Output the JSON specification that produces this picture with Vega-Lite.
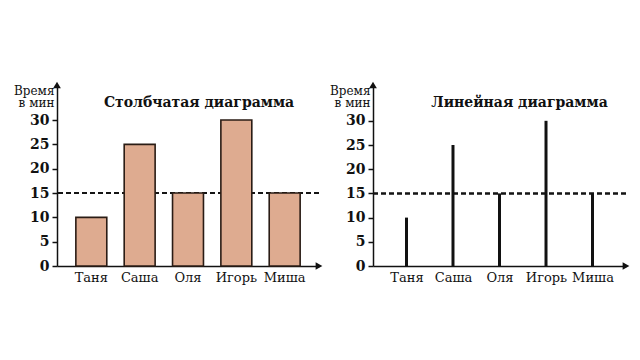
{
  "$schema": "https://vega.github.io/schema/vega-lite/v6.json",
  "background": "#ffffff",
  "padding": {"left": 13, "top": 81, "right": 5, "bottom": 5},
  "spacing": 6,
  "datasets": {
    "times": [
      {"name": "Таня", "minutes": 10},
      {"name": "Саша", "minutes": 25},
      {"name": "Оля", "minutes": 15},
      {"name": "Игорь", "minutes": 30},
      {"name": "Миша", "minutes": 15}
    ],
    "arrowUp": [{"ax": 0, "ay": 37.2}],
    "arrowRight": [{"ax": 1, "ay": 0}],
    "arrowUp2": [{"ax": 0, "ay": 37.4}]
  },
  "hconcat": [
    {
      "width": 262,
      "height": 181,
      "title": {"text": "Столбчатая диаграмма", "dx": 11, "dy": 32},
      "resolve": {"scale": {"x": "independent"}},
      "layer": [
        {
          "data": {"name": "times"},
          "mark": {"type": "rule", "strokeDash": [5, 3], "color": "#151515", "strokeWidth": 1.5},
          "encoding": {"y": {"datum": 15, "type": "quantitative", "scale": {"domain": [0, 37.2], "nice": false},
            "axis": {"values": [0, 5, 10, 15, 20, 25, 30], "labelOverlap": false, "title": ["Время", "в мин"], "titleX": -3, "titleY": 9}}}
        },
        {
          "data": {"name": "times"},
          "mark": {"type": "bar", "fill": "#deab90", "stroke": "#2a1c15", "strokeWidth": 1.6},
          "encoding": {
            "x": {
              "field": "name", "type": "nominal", "sort": null,
              "scale": {"paddingInner": 0.36, "paddingOuter": 0.39},
              "axis": {"ticks": false, "labelAngle": 0, "labelDx": -17, "labelPadding": 5, "title": null}
            },
            "y": {
              "field": "minutes", "type": "quantitative",
              "scale": {"domain": [0, 37.2], "nice": false},
              "axis": {"values": [0, 5, 10, 15, 20, 25, 30], "labelOverlap": false, "title": ["Время", "в мин"], "titleX": -3, "titleY": 9}
            }
          }
        },
        {
          "data": {"name": "arrowUp"},
          "mark": {"type": "point", "shape": "triangle-up", "filled": true, "color": "#111", "size": 60, "opacity": 1},
          "encoding": {
            "x": {"field": "ax", "type": "quantitative", "scale": {"domain": [0, 1]}, "axis": null},
            "y": {"field": "ay", "type": "quantitative",
              "axis": {"values": [0, 5, 10, 15, 20, 25, 30], "labelOverlap": false, "title": ["Время", "в мин"], "titleX": -3, "titleY": 9}}
          }
        },
        {
          "data": {"name": "arrowRight"},
          "mark": {"type": "point", "shape": "triangle-right", "filled": true, "color": "#111", "size": 60, "opacity": 1},
          "encoding": {
            "x": {"field": "ax", "type": "quantitative", "scale": {"domain": [0, 1]}, "axis": null},
            "y": {"field": "ay", "type": "quantitative",
              "axis": {"values": [0, 5, 10, 15, 20, 25, 30], "labelOverlap": false, "title": ["Время", "в мин"], "titleX": -3, "titleY": 9}}
          }
        }
      ]
    },
    {
      "width": 253,
      "height": 181,
      "title": {"text": "Линейная диаграмма", "dx": 20, "dy": 32},
      "resolve": {"scale": {"x": "independent"}},
      "layer": [
        {
          "data": {"name": "times"},
          "mark": {"type": "rule", "strokeDash": [5, 3], "color": "#151515", "strokeWidth": 1.5},
          "encoding": {"y": {"datum": 15, "type": "quantitative", "scale": {"domain": [0, 37.4], "nice": false},
            "axis": {"values": [0, 5, 10, 15, 20, 25, 30], "labelOverlap": false, "title": ["Время", "в мин"], "titleX": -3, "titleY": 9}}}
        },
        {
          "data": {"name": "times"},
          "mark": {"type": "rule", "color": "#111", "strokeWidth": 3},
          "encoding": {
            "x": {
              "field": "name", "type": "nominal", "sort": null,
              "scale": {"type": "point", "padding": 0.72},
              "axis": {"ticks": false, "labelAngle": 0, "labelDx": -3, "labelPadding": 5, "title": null}
            },
            "y": {
              "field": "minutes", "type": "quantitative",
              "scale": {"domain": [0, 37.4], "nice": false},
              "axis": {"values": [0, 5, 10, 15, 20, 25, 30], "labelOverlap": false, "title": ["Время", "в мин"], "titleX": -3, "titleY": 9}
            },
            "y2": {"datum": 0}
          }
        },
        {
          "data": {"name": "arrowUp2"},
          "mark": {"type": "point", "shape": "triangle-up", "filled": true, "color": "#111", "size": 60, "opacity": 1},
          "encoding": {
            "x": {"field": "ax", "type": "quantitative", "scale": {"domain": [0, 1]}, "axis": null},
            "y": {"field": "ay", "type": "quantitative",
              "axis": {"values": [0, 5, 10, 15, 20, 25, 30], "labelOverlap": false, "title": ["Время", "в мин"], "titleX": -3, "titleY": 9}}
          }
        },
        {
          "data": {"name": "arrowRight"},
          "mark": {"type": "point", "shape": "triangle-right", "filled": true, "color": "#111", "size": 60, "opacity": 1},
          "encoding": {
            "x": {"field": "ax", "type": "quantitative", "scale": {"domain": [0, 1]}, "axis": null},
            "y": {"field": "ay", "type": "quantitative",
              "axis": {"values": [0, 5, 10, 15, 20, 25, 30], "labelOverlap": false, "title": ["Время", "в мин"], "titleX": -3, "titleY": 9}}
          }
        }
      ]
    }
  ],
  "config": {
    "view": {"stroke": null},
    "axis": {
      "domainColor": "#111", "domainWidth": 1.5,
      "tickColor": "#111", "tickWidth": 1.5, "tickSize": 5,
      "grid": false,
      "labelFont": "DejaVu Serif", "labelColor": "#111",
      "titleFont": "DejaVu Serif", "titleColor": "#111",
      "titleFontSize": 12, "titleFontWeight": "normal", "titleAngle": 0,
      "titleAlign": "right", "titleBaseline": "alphabetic", "titleLineHeight": 12.5
    },
    "axisX": {"labelFontSize": 13, "labelFontWeight": "normal"},
    "axisY": {"labelFontSize": 14, "labelFontWeight": "bold", "labelPadding": 3, "labelOverlap": false},
    "title": {
      "font": "DejaVu Serif", "fontSize": 14, "fontWeight": "bold", "color": "#111",
      "anchor": "middle", "baseline": "alphabetic", "offset": 0
    }
  }
}
